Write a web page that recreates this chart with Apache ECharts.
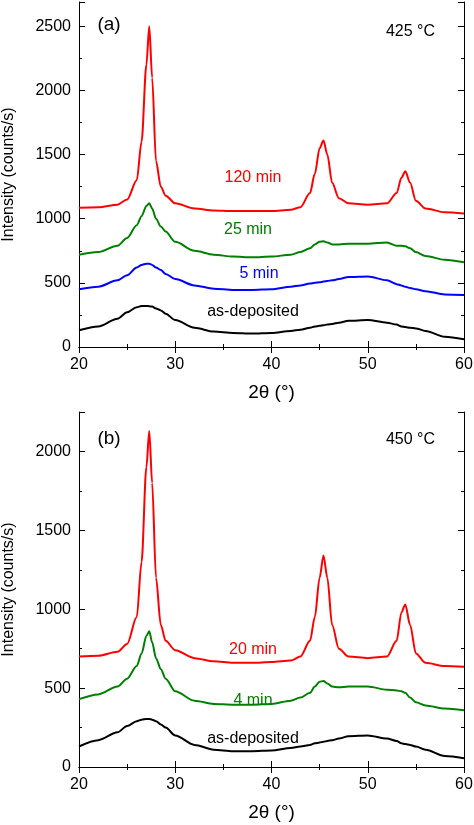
<!DOCTYPE html>
<html><head><meta charset="utf-8">
<script src="https://cdn.jsdelivr.net/npm/echarts@6/dist/echarts.min.js"></script>
<style>body{margin:0;background:#fff}#main{width:474px;height:825px}</style>
</head><body><div id="main"></div>
<script>
var theta = [20,22,24,25,26,26.5,27,27.3,27.6,28,28.5,29,30,32,34,36,38,40,42,43,44,44.5,45,45.4,45.8,46.3,47,48,50,52,53,53.5,53.9,54.4,55,56,58,60];
// panel (a) 425 °C
var a120 = [1085,1090,1110,1150,1300,1600,2200,2500,2100,1450,1250,1180,1120,1080,1065,1060,1060,1060,1070,1090,1200,1350,1550,1610,1500,1280,1160,1120,1110,1120,1200,1320,1370,1280,1140,1080,1050,1040];
var a25 = [720,740,790,850,950,1020,1100,1120,1080,1000,940,900,820,750,720,705,700,705,720,740,770,800,820,825,815,800,800,805,805,815,790,790,785,770,740,710,680,660];
var a5 = [450,470,520,560,620,640,650,650,640,620,600,570,530,480,455,445,445,450,470,480,495,500,505,510,515,520,530,545,550,520,490,480,470,460,450,435,410,405];
var aDep = [130,160,220,270,310,320,320,318,315,300,285,260,210,150,120,110,105,110,125,135,150,160,165,170,175,180,190,205,210,190,175,160,155,150,145,125,80,60];
// panel (b) 450 °C
var b20 = [700,705,730,780,950,1300,1900,2130,1800,1200,900,800,740,690,670,660,660,665,675,700,800,950,1200,1340,1200,900,750,700,690,700,800,980,1030,900,720,660,640,635];
var b4 = [430,460,510,560,640,720,830,860,790,690,620,560,480,420,400,395,395,400,420,440,470,510,540,545,530,510,505,510,510,490,485,480,470,440,410,390,370,360];
var bDep = [130,170,220,260,290,300,305,305,300,290,270,250,200,140,110,100,100,105,120,130,140,150,155,160,165,170,180,195,200,180,165,150,145,140,130,110,70,55];

function pairs(v){ return theta.map(function(t,i){return [t,v[i]];}); }
var F = 'Arial, "Liberation Sans", sans-serif';
var grids = [
  {left:79, right:10, top:2, height:345, outerBoundsMode:'none'},
  {left:79, right:10, top:412, bottom:58, outerBoundsMode:'none'}
];
var xAxes = [], yAxes = [];
[0,1].forEach(function(g){
  xAxes.push({type:'value', gridIndex:g, min:20, max:60, interval:10,
    name:'2θ (°)', nameLocation:'middle', nameGap:36, nameTextStyle:{fontSize:19, fontFamily:F, color:'#000'},
    axisLine:{lineStyle:{color:'#000'}}, axisTick:{inside:true, length:6, lineStyle:{color:'#000'}},
    minorTick:{show:true, splitNumber:2, length:3, lineStyle:{color:'#000'}},
    axisLabel:{fontSize:16, fontFamily:F, color:'#000', margin:10}, splitLine:{show:false}});
  xAxes.push({type:'value', gridIndex:g, position:'top', min:20, max:60, interval:10,
    axisLine:{lineStyle:{color:'#000'}}, axisTick:{inside:true, length:6, lineStyle:{color:'#000'}},
    minorTick:{show:true, splitNumber:2, length:3, lineStyle:{color:'#000'}},
    axisLabel:{show:false}, splitLine:{show:false}});
  var ymax = g === 0 ? 2690 : 2250;
  yAxes.push({type:'value', gridIndex:g, min:0, max:ymax, interval:500,
    name:'Intensity (counts/s)', nameLocation:'middle', nameGap:62, nameTextStyle:{fontSize:16, fontFamily:F, color:'#000'},
    axisLine:{show:true, lineStyle:{color:'#000'}}, axisTick:{inside:true, length:6, lineStyle:{color:'#000'}},
    minorTick:{show:true, splitNumber:2, length:3, lineStyle:{color:'#000'}},
    axisLabel:{fontSize:16, fontFamily:F, color:'#000', showMaxLabel:false, formatter:function(v){return String(v);}}, splitLine:{show:false}});
  yAxes.push({type:'value', gridIndex:g, position:'right', min:0, max:ymax, interval:500,
    axisLine:{show:true, lineStyle:{color:'#000'}}, axisTick:{inside:true, length:6, lineStyle:{color:'#000'}},
    minorTick:{show:true, splitNumber:2, length:3, lineStyle:{color:'#000'}},
    axisLabel:{show:false}, splitLine:{show:false}});
});
function line(name, v, color, g){
  return {name:name, type:'line', xAxisIndex:g*2, yAxisIndex:g*2, data:pairs(v), smooth:0.3, smoothMonotone:'x',
    showSymbol:false, lineStyle:{color:color, width:2}, itemStyle:{color:color}, silent:true};
}
function txt(x, y, s, color, align, size){
  return {type:'text', x:x, y:y, style:{text:s, fill:color, font:(size||16)+'px '+F, textAlign:align||'center', textVerticalAlign:'middle'}};
}
var chart = echarts.init(document.getElementById('main'));
chart.setOption({
  animation:false,
  grid:grids, xAxis:xAxes, yAxis:yAxes,
  series:[
    line('120 min', a120, '#ff0000', 0), line('25 min', a25, '#008000', 0),
    line('5 min', a5, '#0000ff', 0), line('as-deposited', aDep, '#000000', 0),
    line('20 min', b20, '#ff0000', 1), line('4 min', b4, '#008000', 1),
    line('as-deposited', bDep, '#000000', 1)
  ],
  graphic:[
    txt(109, 25, '(a)', '#000', 'center', 19), txt(435, 32, '425 °C', '#000', 'right', 16),
    txt(253, 178, '120 min', '#ff0000'), txt(248, 230, '25 min', '#008000'),
    txt(259, 274, '5 min', '#0000ff'), txt(253, 312, 'as-deposited', '#000'),
    txt(109, 439, '(b)', '#000', 'center', 19), txt(435, 440, '450 °C', '#000', 'right', 16),
    txt(253, 650, '20 min', '#ff0000'), txt(253, 701, '4 min', '#008000'),
    txt(253, 739, 'as-deposited', '#000')
  ]
});
</script></body></html>
